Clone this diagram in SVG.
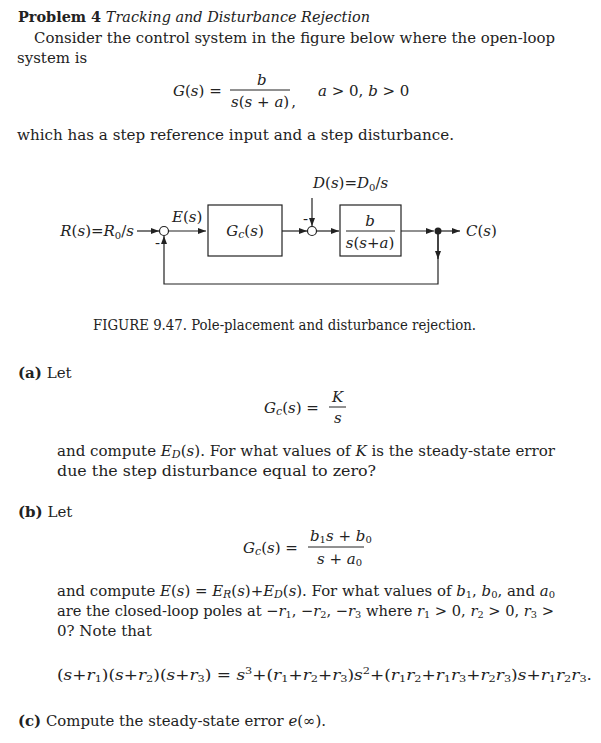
<svg xmlns="http://www.w3.org/2000/svg" width="601" height="743" viewBox="0 0 601 743">
<style>
text{font-family:"DejaVu Serif","Liberation Serif",serif;font-size:15px;fill:#222}
.i{font-style:italic}
.b{font-weight:bold}
.ln{stroke:#222;stroke-width:1.2;fill:none}
</style>
<defs><marker id="a" markerWidth="8" markerHeight="6" refX="8" refY="3" orient="auto" markerUnits="userSpaceOnUse"><path d="M0,0L8,3L0,6z" fill="#222"/></marker></defs>
<rect width="601" height="743" fill="#fff"/>
<text x="18" y="22" textLength="352" lengthAdjust="spacingAndGlyphs"><tspan class="b">Problem 4</tspan> <tspan class="i">Tracking and Disturbance Rejection</tspan></text>
<text x="34" y="43" textLength="521" lengthAdjust="spacingAndGlyphs">Consider the control system in the figure below where the open-loop</text>
<text x="17" y="63">system is</text>
<text x="173" y="96"><tspan class="i">G</tspan>(<tspan class="i">s</tspan>) =</text>
<text x="257" y="85" font-size="13" class="i">b</text>
<line x1="230" y1="90" x2="290" y2="90" stroke="#222"/>
<text x="231" y="107" font-size="14"><tspan class="i">s</tspan>(<tspan class="i">s</tspan> + <tspan class="i">a</tspan>)<tspan dx="2">,</tspan></text>
<text x="318" y="96"><tspan class="i">a</tspan> &gt; 0, <tspan class="i">b</tspan> &gt; 0</text>
<text x="17" y="140" textLength="437" lengthAdjust="spacingAndGlyphs">which has a step reference input and a step disturbance.</text>

<g id="connectors" class="ln">
<line x1="137" y1="231" x2="159" y2="231" marker-end="url(#a)"/>
<line x1="168" y1="231" x2="206" y2="231" marker-end="url(#a)"/>
<line x1="282" y1="231" x2="307" y2="231" marker-end="url(#a)"/>
<line x1="316" y1="231" x2="339" y2="231" marker-end="url(#a)"/>
<line x1="401" y1="231" x2="434" y2="231" marker-end="url(#a)"/>
<line x1="438" y1="231" x2="460" y2="231" marker-end="url(#a)"/>
<line x1="312" y1="198" x2="312" y2="226" marker-end="url(#a)"/>
<polyline points="438,231 438,284 164,284 164,236" marker-end="url(#a)"/>
<line x1="438" y1="231" x2="438" y2="259" marker-end="url(#a)"/>
</g>
<g id="sum1"><circle cx="164" cy="231" r="4.5" fill="#fff" stroke="#222" stroke-width="1.2"/><text x="155" y="248" font-size="12">-</text></g>
<g id="sum2"><circle cx="312" cy="231" r="4.5" fill="#fff" stroke="#222" stroke-width="1.2"/><text x="303" y="224" font-size="12">-</text></g>
<g id="gc"><rect x="208" y="205" width="74" height="51" fill="#fff" stroke="#222" stroke-width="1.2"/><text x="245" y="236" text-anchor="middle" class="i">G<tspan font-size="11" dy="2">c</tspan><tspan dy="-2" font-style="normal">(</tspan>s<tspan font-style="normal">)</tspan></text></g>
<g id="plant"><rect x="340" y="205" width="61" height="51" fill="#fff" stroke="#222" stroke-width="1.2"/><text x="370" y="226" text-anchor="middle" class="i">b</text><line x1="346" y1="231" x2="395" y2="231" stroke="#222"/><text x="370" y="248" text-anchor="middle" class="i" font-size="14">s<tspan font-style="normal">(</tspan>s<tspan font-style="normal">+</tspan>a<tspan font-style="normal">)</tspan></text></g>
<g id="tap"><circle cx="438" cy="231" r="3.5" fill="#222"/></g>
<g id="labels">
<text x="134" y="236" text-anchor="end"><tspan class="i">R</tspan>(<tspan class="i">s</tspan>)=<tspan class="i">R</tspan><tspan font-size="10" dy="3">0</tspan><tspan dy="-3">/</tspan><tspan class="i">s</tspan></text>
<text x="172" y="222"><tspan class="i">E</tspan>(<tspan class="i">s</tspan>)</text>
<text x="466" y="236"><tspan class="i">C</tspan>(<tspan class="i">s</tspan>)</text>
<text x="313" y="188"><tspan class="i">D</tspan>(<tspan class="i">s</tspan>)=<tspan class="i">D</tspan><tspan font-size="10" dy="3">0</tspan><tspan dy="-3">/</tspan><tspan class="i">s</tspan></text>
</g>
<text x="93" y="330" font-size="14" textLength="383" lengthAdjust="spacingAndGlyphs">FIGURE 9.47. Pole-placement and disturbance rejection.</text>

<text x="18" y="378"><tspan class="b">(a)</tspan> Let</text>
<text x="264" y="413"><tspan class="i">G</tspan><tspan font-size="11" class="i" dy="2">c</tspan><tspan dy="-2">(</tspan><tspan class="i">s</tspan>) =</text>
<text x="332" y="402" class="i" font-size="14">K</text>
<line x1="329" y1="407" x2="346" y2="407" stroke="#222"/>
<text x="334" y="423" class="i" font-size="13">s</text>
<text x="57" y="456" textLength="498" lengthAdjust="spacingAndGlyphs">and compute <tspan class="i">E</tspan><tspan font-size="11" class="i" dy="2">D</tspan><tspan dy="-2">(</tspan><tspan class="i">s</tspan>). For what values of <tspan class="i">K</tspan> is the steady-state error</text>
<text x="57" y="476" textLength="319" lengthAdjust="spacingAndGlyphs">due the step disturbance equal to zero?</text>
<text x="18" y="517"><tspan class="b">(b)</tspan> Let</text>
<text x="243" y="553"><tspan class="i">G</tspan><tspan font-size="11" class="i" dy="2">c</tspan><tspan dy="-2">(</tspan><tspan class="i">s</tspan>) =</text>
<text x="310" y="541" font-size="14"><tspan class="i">b</tspan><tspan font-size="10" dy="2">1</tspan><tspan class="i" dy="-2">s</tspan> + <tspan class="i">b</tspan><tspan font-size="10" dy="2">0</tspan></text>
<line x1="308" y1="547" x2="364" y2="547" stroke="#222"/>
<text x="317" y="564" font-size="14"><tspan class="i">s</tspan> + <tspan class="i">a</tspan><tspan font-size="10" dy="2">0</tspan></text>
<text x="57" y="596" textLength="498" lengthAdjust="spacingAndGlyphs">and compute <tspan class="i">E</tspan>(<tspan class="i">s</tspan>) = <tspan class="i">E</tspan><tspan font-size="11" class="i" dy="2">R</tspan><tspan dy="-2">(</tspan><tspan class="i">s</tspan>)+<tspan class="i">E</tspan><tspan font-size="11" class="i" dy="2">D</tspan><tspan dy="-2">(</tspan><tspan class="i">s</tspan>). For what values of <tspan class="i">b</tspan><tspan font-size="10" dy="2">1</tspan><tspan dy="-2">, </tspan><tspan class="i">b</tspan><tspan font-size="10" dy="2">0</tspan><tspan dy="-2">, and </tspan><tspan class="i">a</tspan><tspan font-size="10" dy="2">0</tspan></text>
<text x="57" y="616" textLength="497" lengthAdjust="spacingAndGlyphs">are the closed-loop poles at −<tspan class="i">r</tspan><tspan font-size="10" dy="2">1</tspan><tspan dy="-2">, −</tspan><tspan class="i">r</tspan><tspan font-size="10" dy="2">2</tspan><tspan dy="-2">, −</tspan><tspan class="i">r</tspan><tspan font-size="10" dy="2">3</tspan><tspan dy="-2"> where </tspan><tspan class="i">r</tspan><tspan font-size="10" dy="2">1</tspan><tspan dy="-2"> &gt; 0, </tspan><tspan class="i">r</tspan><tspan font-size="10" dy="2">2</tspan><tspan dy="-2"> &gt; 0, </tspan><tspan class="i">r</tspan><tspan font-size="10" dy="2">3</tspan><tspan dy="-2"> &gt;</tspan></text>
<text x="57" y="636">0? Note that</text>
<text x="57" y="680" textLength="535" lengthAdjust="spacingAndGlyphs">(<tspan class="i">s</tspan>+<tspan class="i">r</tspan><tspan font-size="10" dy="2">1</tspan><tspan dy="-2">)(</tspan><tspan class="i">s</tspan>+<tspan class="i">r</tspan><tspan font-size="10" dy="2">2</tspan><tspan dy="-2">)(</tspan><tspan class="i">s</tspan>+<tspan class="i">r</tspan><tspan font-size="10" dy="2">3</tspan><tspan dy="-2">) = </tspan><tspan class="i">s</tspan><tspan font-size="10" dy="-6">3</tspan><tspan dy="6">+(</tspan><tspan class="i">r</tspan><tspan font-size="10" dy="2">1</tspan><tspan dy="-2">+</tspan><tspan class="i">r</tspan><tspan font-size="10" dy="2">2</tspan><tspan dy="-2">+</tspan><tspan class="i">r</tspan><tspan font-size="10" dy="2">3</tspan><tspan dy="-2">)</tspan><tspan class="i">s</tspan><tspan font-size="10" dy="-6">2</tspan><tspan dy="6">+(</tspan><tspan class="i">r</tspan><tspan font-size="10" dy="2">1</tspan><tspan class="i" dy="-2">r</tspan><tspan font-size="10" dy="2">2</tspan><tspan dy="-2">+</tspan><tspan class="i">r</tspan><tspan font-size="10" dy="2">1</tspan><tspan class="i" dy="-2">r</tspan><tspan font-size="10" dy="2">3</tspan><tspan dy="-2">+</tspan><tspan class="i">r</tspan><tspan font-size="10" dy="2">2</tspan><tspan class="i" dy="-2">r</tspan><tspan font-size="10" dy="2">3</tspan><tspan dy="-2">)</tspan><tspan class="i">s</tspan>+<tspan class="i">r</tspan><tspan font-size="10" dy="2">1</tspan><tspan class="i" dy="-2">r</tspan><tspan font-size="10" dy="2">2</tspan><tspan class="i" dy="-2">r</tspan><tspan font-size="10" dy="2">3</tspan><tspan dy="-2">.</tspan></text>
<text x="18" y="726" textLength="308" lengthAdjust="spacingAndGlyphs"><tspan class="b">(c)</tspan> Compute the steady-state error <tspan class="i">e</tspan>(∞).</text>
</svg>
